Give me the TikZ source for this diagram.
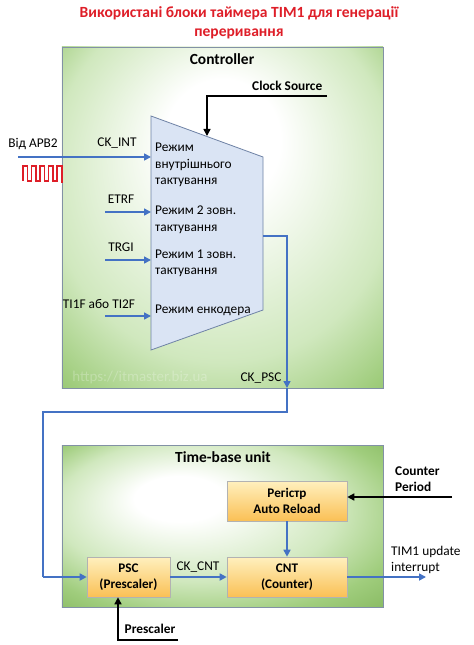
\documentclass[tikz,border=0pt]{standalone}
\usepackage{fontspec}
\setmainfont{Carlito}
\usetikzlibrary{arrows.meta}
\definecolor{tblue}{RGB}{68,114,196}
\definecolor{tred}{RGB}{222,30,40}
\definecolor{gL}{RGB}{208,232,190}
\definecolor{gA}{RGB}{160,205,125}
\definecolor{gB}{RGB}{118,172,78}
\definecolor{boxline}{RGB}{130,145,165}
\definecolor{muxfill}{RGB}{218,228,244}
\definecolor{muxline}{RGB}{110,130,165}
\definecolor{orT}{RGB}{255,240,190}
\definecolor{orB}{RGB}{250,192,85}
\pgfdeclareradialshading{glowA}{\pgfpoint{0bp}{14bp}}{color(0bp)=(white); color(9bp)=(white); color(27bp)=(gL); color(36bp)=(gA); color(46bp)=(gB)}
\pgfdeclareradialshading{glowB}{\pgfpoint{-8bp}{10bp}}{color(0bp)=(white); color(7bp)=(white); color(22bp)=(gL); color(31bp)=(gA); color(43bp)=(gB)}
\begin{document}
\begin{tikzpicture}[x=1bp,y=-1bp,
  every node/.style={inner sep=0pt, text height=9bp, text depth=3bp},
  lbl/.style={font=\fontsize{13.4}{16}\selectfont},
  bl/.style={font=\bfseries\fontsize{13.4}{16}\selectfont},
  hd/.style={font=\bfseries\fontsize{15.5}{18}\selectfont},
  ttl/.style={font=\bfseries\fontsize{15.6}{18}\selectfont, text=tred},
  greenbox/.style={draw=boxline, line width=0.8bp},
  regbox/.style={draw=gray!60, line width=0.6bp, top color=orT, bottom color=orB,
     minimum height=40bp, align=center, font=\bfseries\fontsize{13.2}{16}\selectfont,
     text height=, text depth=},
  barr/.style={draw=tblue, line width=1.6bp, -{Triangle[width=7bp,length=7bp]}},
  bline/.style={draw=tblue, line width=1.6bp},
  karr/.style={draw=black, line width=1.5bp, -{Triangle[width=7bp,length=7bp]}}
]
\useasboundingbox (0,0) rectangle (474,645);

% title
\node[ttl] (t1) at (239,15) {Використані блоки таймера TIM1 для генерації};
\node[ttl] (t2) at (239,34) {переривання};

% controller box
\node[greenbox, shading=glowA, minimum width=321bp, minimum height=341bp] (ctrl) at (222.5,217.5) {};
\node[hd] (ctrlt) at (222,62) {Controller};
\node[font=\fontsize{15}{18}\selectfont, text=white, opacity=0.25] (wm) at (140,378) {https://itmaster.biz.ua};

% mux
\coordinate (mTL) at (151,116);
\coordinate (mTR) at (263,157);
\coordinate (mBR) at (263,310);
\coordinate (mBL) at (151,350);
\draw[fill=muxfill, draw=muxline, line width=0.8bp] (mTL) -- (mTR) -- (mBR) -- (mBL) -- cycle;
\node[lbl, anchor=west] (m1) at (155,149) {Режим};
\node[lbl, anchor=west] (m2) at (155,165.5) {внутрішнього};
\node[lbl, anchor=west] (m3) at (155,182) {тактування};
\node[lbl, anchor=west] (m4) at (155,211) {Режим 2 зовн.};
\node[lbl, anchor=west] (m5) at (155,228) {тактування};
\node[lbl, anchor=west] (m6) at (155,255) {Режим 1 зовн.};
\node[lbl, anchor=west] (m7) at (155,271) {тактування};
\node[lbl, anchor=west] (m8) at (155,310) {Режим енкодера};

% clock source
\node[bl, anchor=west] (cs) at (252,88) {Clock Source};
\coordinate (csE) at (327,96);
\coordinate (csC) at (207,96);
\coordinate (csIn) at (207,136);
\draw[karr] (csE) -- (csC) -- (csIn);

% inputs
\node[lbl] (apb) at (33,145) {Від APB2};
\node[lbl] (ckint) at (117,144) {CK\_INT};
\coordinate (apbS) at (18,157);
\coordinate (inA) at (151,157);
\draw[barr] (apbS) -- (inA);
\draw[tred, line width=1.2bp, line join=miter]
  (23,181) -- (23,166) -- (27.5,166) -- (27.5,181) -- (31.5,181) -- (31.5,166) -- (36,166) -- (36,181)
  -- (40,181) -- (40,166) -- (44.5,166) -- (44.5,181) -- (48.5,181) -- (48.5,166) -- (53,166) -- (53,181)
  -- (57,181) -- (57,166) -- (62,166) -- (62,183);

\node[lbl] (etrf) at (121,200) {ETRF};
\coordinate (etS) at (105,212);
\coordinate (inB) at (151,212);
\draw[barr] (etS) -- (inB);

\node[lbl] (trgi) at (121,248) {TRGI};
\coordinate (trS) at (105,260);
\coordinate (inC) at (151,260);
\draw[barr] (trS) -- (inC);

\node[lbl] (ti) at (99,305) {TI1F або TI2F};
\coordinate (tiS) at (105,316);
\coordinate (inD) at (151,316);
\draw[barr] (tiS) -- (inD);

% output of controller
\coordinate (mOut) at (263,236);
\coordinate (o1) at (287,236);
\coordinate (o2) at (287,388);
\coordinate (o3) at (287,412);
\coordinate (o4) at (43,412);
\node[lbl] (ckpsc) at (261,378) {CK\_PSC};
\draw[barr] (mOut) -- (o1) -- (o2);

% time-base unit
\node[greenbox, shading=glowB, minimum width=321bp, minimum height=162bp] (tbu) at (222.5,526) {};
\node[hd] (tbut) at (223,459) {Time-base unit};

\node[regbox, minimum width=120bp] (arr) at (287,501) {Регістр\\Auto Reload};
\node[regbox, minimum width=120bp] (cnt) at (287,577) {CNT\\(Counter)};
\node[regbox, minimum width=83bp] (psc) at (128.5,577) {PSC\\(Prescaler)};

\draw[bline] (o2) -- (o3) -- (o4) -- (o4 |- psc.west);
\draw[barr] (o4 |- psc.west) -- (psc.west);

\draw[barr] (arr.south) -- (cnt.north);
\draw[barr] (psc.east) -- (cnt.west);
\node[lbl] (ckcnt) at (198,567) {CK\_CNT};
\coordinate (irq) at (426,577);
\draw[barr] (cnt.east) -- (irq);
\node[lbl, anchor=west] (irq1) at (391,552) {TIM1 update};
\node[lbl, anchor=west] (irq2) at (391,568) {interrupt};

% counter period
\node[bl, anchor=west] (cp1) at (395,472) {Counter};
\node[bl, anchor=west] (cp2) at (395,488) {Period};
\coordinate (cpS) at (452,497);
\draw[karr] (cpS) -- (cpS -| arr.east);

% prescaler
\node[bl] (pre) at (150,630) {Prescaler};
\coordinate (preE) at (178,640);
\coordinate (preC) at (118,640);
\draw[karr] (preE) -- (preC) -- (preC |- psc.south);
\end{tikzpicture}
\end{document}
